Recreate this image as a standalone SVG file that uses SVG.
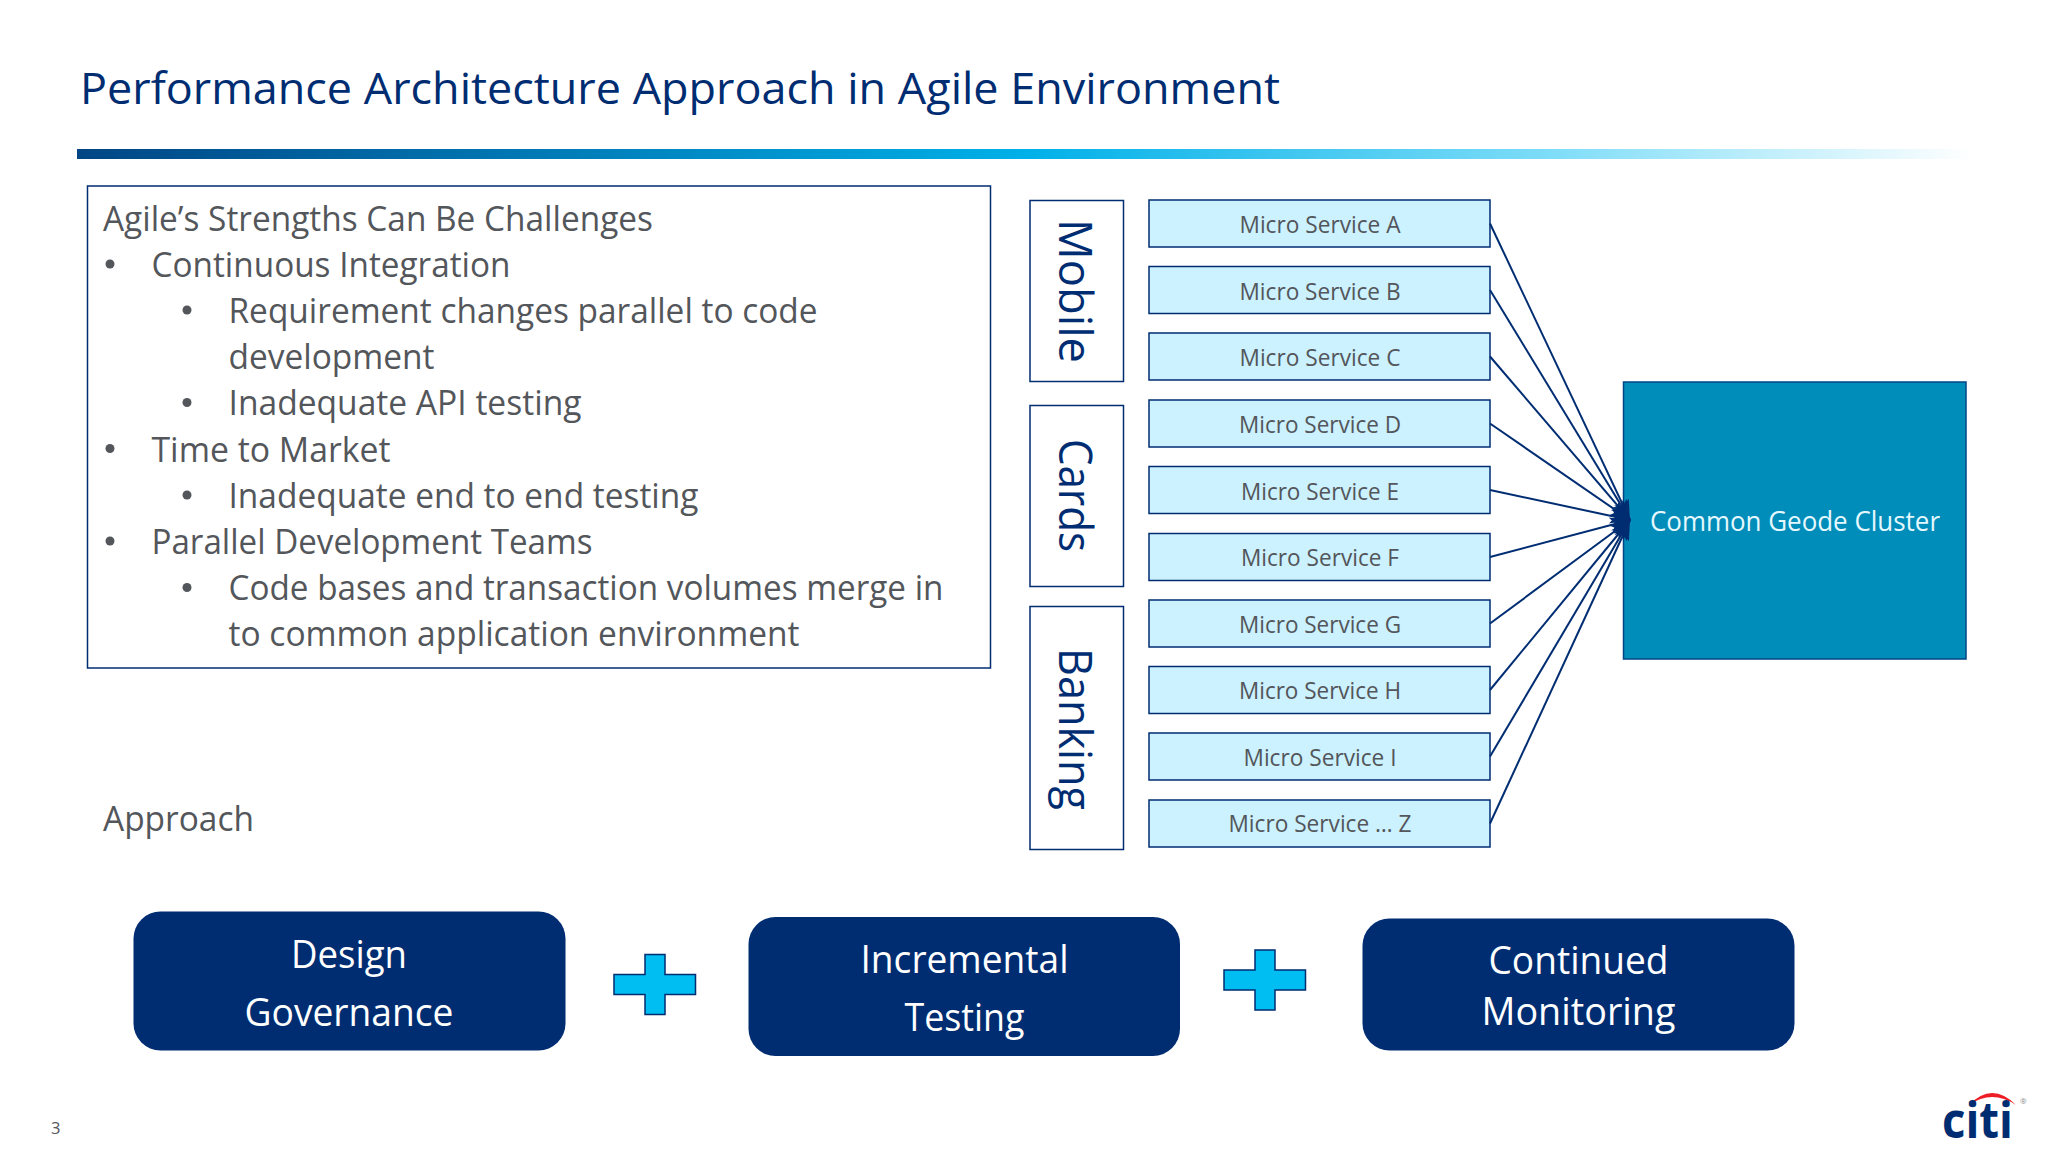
<svg xmlns="http://www.w3.org/2000/svg" width="2048" height="1155" viewBox="0 0 2048 1155">
<style>
text{font-family:"Open Sans","Noto Sans","Liberation Sans",sans-serif}
.title{font-size:44.500px;fill:#002D72}
.body{font-size:34.500px;fill:#53565A}
.bul{fill:#53565A}
.box{fill:#fff;stroke:#002D72;stroke-width:1.500}
.cat{font-size:46px;fill:#002D72}
.ms{fill:#CCF1FF;stroke:#002D72;stroke-width:1.500}
.mst{font-size:24px;fill:#53565A;text-anchor:middle}
.big{fill:#002D72}
.bigt{font-size:38.500px;fill:#fff;text-anchor:middle}
.plus{fill:#00BDF2;stroke:#002D72;stroke-width:1.500}
.conn{stroke:#002D72;stroke-width:2;fill:none;marker-end:url(#arrow)}
</style>
<defs>
<linearGradient id="bar" x1="0" y1="0" x2="1" y2="0">
<stop offset="0" stop-color="#004685"/><stop offset="0.5" stop-color="#00B0E8"/><stop offset="0.78" stop-color="#7FDDF8"/><stop offset="1" stop-color="#fff"/>
</linearGradient>
<marker id="arrow" markerUnits="userSpaceOnUse" markerWidth="22" markerHeight="18" refX="20" refY="9" orient="auto">
<path d="M0 1L20 9L0 17L5 9Z" fill="#002D72"/>
</marker>
</defs>
<rect width="2048" height="1155" fill="#fff"/>
<text class="title" x="80" y="104" textLength="1200" lengthAdjust="spacingAndGlyphs">Performance Architecture Approach in Agile Environment</text>
<rect x="77" y="149" width="1895" height="10" fill="url(#bar)"/>
<g id="challenges">
<rect class="box" x="87.500" y="186" width="903" height="482"/>
<text class="body" x="103" y="230.500" textLength="550" lengthAdjust="spacingAndGlyphs">Agile’s Strengths Can Be Challenges</text>
<circle class="bul" cx="110" cy="264" r="4.500"/>
<text class="body" x="151.500" y="276.700" textLength="359" lengthAdjust="spacingAndGlyphs">Continuous Integration</text>
<circle class="bul" cx="187" cy="310" r="4.500"/>
<text class="body" x="228.500" y="322.900" textLength="589" lengthAdjust="spacingAndGlyphs">Requirement changes parallel to code</text>
<text class="body" x="228.500" y="369.100" textLength="206" lengthAdjust="spacingAndGlyphs">development</text>
<circle class="bul" cx="187" cy="402.500" r="4.500"/>
<text class="body" x="228.500" y="415.300" textLength="353" lengthAdjust="spacingAndGlyphs">Inadequate API testing</text>
<circle class="bul" cx="110" cy="448.500" r="4.500"/>
<text class="body" x="151.500" y="461.500" textLength="239" lengthAdjust="spacingAndGlyphs">Time to Market</text>
<circle class="bul" cx="187" cy="495" r="4.500"/>
<text class="body" x="228.500" y="507.700" textLength="470" lengthAdjust="spacingAndGlyphs">Inadequate end to end testing</text>
<circle class="bul" cx="110" cy="541" r="4.500"/>
<text class="body" x="151.500" y="553.900" textLength="441" lengthAdjust="spacingAndGlyphs">Parallel Development Teams</text>
<circle class="bul" cx="187" cy="587.500" r="4.500"/>
<text class="body" x="228.500" y="600.100" textLength="715" lengthAdjust="spacingAndGlyphs">Code bases and transaction volumes merge in</text>
<text class="body" x="228.500" y="646.300" textLength="571" lengthAdjust="spacingAndGlyphs">to common application environment</text>
</g>
<text id="approach" class="body" x="103" y="831" textLength="151" lengthAdjust="spacingAndGlyphs">Approach</text>
<g id="mobile"><rect class="box" x="1030" y="200.500" width="93.500" height="181"/><text class="cat" transform="translate(1059,219) rotate(90)" textLength="144" lengthAdjust="spacingAndGlyphs">Mobile</text></g>
<g id="cards"><rect class="box" x="1030" y="405.500" width="93.500" height="181"/><text class="cat" transform="translate(1059,439) rotate(90)" textLength="113" lengthAdjust="spacingAndGlyphs">Cards</text></g>
<g id="banking"><rect class="box" x="1030" y="606.500" width="93.500" height="243"/><text class="cat" transform="translate(1059,648) rotate(90)" textLength="162" lengthAdjust="spacingAndGlyphs">Banking</text></g>
<g id="ms-a"><rect class="ms" x="1149" y="200" width="341" height="47"/><text class="mst" x="1320" y="233" textLength="161" lengthAdjust="spacingAndGlyphs">Micro Service A</text></g>
<g id="ms-b"><rect class="ms" x="1149" y="266.500" width="341" height="47"/><text class="mst" x="1320" y="299.500" textLength="161" lengthAdjust="spacingAndGlyphs">Micro Service B</text></g>
<g id="ms-c"><rect class="ms" x="1149" y="333" width="341" height="47"/><text class="mst" x="1320" y="366" textLength="161" lengthAdjust="spacingAndGlyphs">Micro Service C</text></g>
<g id="ms-d"><rect class="ms" x="1149" y="400" width="341" height="47"/><text class="mst" x="1320" y="433" textLength="162" lengthAdjust="spacingAndGlyphs">Micro Service D</text></g>
<g id="ms-e"><rect class="ms" x="1149" y="466.500" width="341" height="47"/><text class="mst" x="1320" y="499.500" textLength="158" lengthAdjust="spacingAndGlyphs">Micro Service E</text></g>
<g id="ms-f"><rect class="ms" x="1149" y="533.500" width="341" height="47"/><text class="mst" x="1320" y="566" textLength="158" lengthAdjust="spacingAndGlyphs">Micro Service F</text></g>
<g id="ms-g"><rect class="ms" x="1149" y="600" width="341" height="47"/><text class="mst" x="1320" y="632.500" textLength="162" lengthAdjust="spacingAndGlyphs">Micro Service G</text></g>
<g id="ms-h"><rect class="ms" x="1149" y="666.500" width="341" height="47"/><text class="mst" x="1320" y="699" textLength="162" lengthAdjust="spacingAndGlyphs">Micro Service H</text></g>
<g id="ms-i"><rect class="ms" x="1149" y="733" width="341" height="47"/><text class="mst" x="1320" y="765.700" textLength="153" lengthAdjust="spacingAndGlyphs">Micro Service I</text></g>
<g id="ms-z"><rect class="ms" x="1149" y="800" width="341" height="47"/><text class="mst" x="1320" y="832.300" textLength="183" lengthAdjust="spacingAndGlyphs">Micro Service … Z</text></g>
<g id="geode"><rect x="1623.500" y="382" width="342.500" height="277" fill="#008DB9" stroke="#004685" stroke-width="1.500"/><text x="1795" y="531" font-size="26.500" fill="#E5F8FF" text-anchor="middle" textLength="290" lengthAdjust="spacingAndGlyphs">Common Geode Cluster</text></g>
<g id="design"><rect class="big" x="133.500" y="911.500" width="432" height="139" rx="27"/><text class="bigt" x="349" y="968" textLength="116" lengthAdjust="spacingAndGlyphs">Design</text><text class="bigt" x="349" y="1025.500" textLength="209" lengthAdjust="spacingAndGlyphs">Governance</text></g>
<g id="plus1"><path class="plus" d="M645 954.500h20v20h30.500v20h-30.500v20h-20v-20h-31v-20h31z"/></g>
<g id="incremental"><rect class="big" x="748.500" y="917" width="431.500" height="139" rx="27"/><text class="bigt" x="964.500" y="973" textLength="208" lengthAdjust="spacingAndGlyphs">Incremental</text><text class="bigt" x="964.500" y="1031" textLength="120" lengthAdjust="spacingAndGlyphs">Testing</text></g>
<g id="plus2"><path class="plus" d="M1255 950h20v20h30.500v20h-30.500v20h-20v-20h-31v-20h31z"/></g>
<g id="monitoring"><rect class="big" x="1362.500" y="918.500" width="432" height="132" rx="27"/><text class="bigt" x="1578.500" y="974" textLength="180" lengthAdjust="spacingAndGlyphs">Continued</text><text class="bigt" x="1578.500" y="1025" textLength="194" lengthAdjust="spacingAndGlyphs">Monitoring</text></g>
<g id="connectors">
<line class="conn" x1="1490" y1="223.500" x2="1630" y2="520"/>
<line class="conn" x1="1490" y1="290" x2="1630" y2="520"/>
<line class="conn" x1="1490" y1="356.500" x2="1630" y2="520"/>
<line class="conn" x1="1490" y1="423.500" x2="1630" y2="520"/>
<line class="conn" x1="1490" y1="490" x2="1630" y2="520"/>
<line class="conn" x1="1490" y1="557" x2="1630" y2="520"/>
<line class="conn" x1="1490" y1="623.500" x2="1630" y2="520"/>
<line class="conn" x1="1490" y1="690" x2="1630" y2="520"/>
<line class="conn" x1="1490" y1="756.500" x2="1630" y2="520"/>
<line class="conn" x1="1490" y1="823.500" x2="1630" y2="520"/>
</g>
<text id="page" x="51" y="1134" font-size="16.500" fill="#53565A">3</text>
<g id="logo"><path d="M1969 1105Q1992 1081 2016 1105Q1992 1089 1969 1105Z" fill="#EE1C25"/><text x="1942" y="1138" font-size="50" font-weight="700" fill="#002D72" textLength="71" lengthAdjust="spacingAndGlyphs">citi</text><text x="2020" y="1104" font-size="8" fill="#8A8D8F">®</text></g>
</svg>
